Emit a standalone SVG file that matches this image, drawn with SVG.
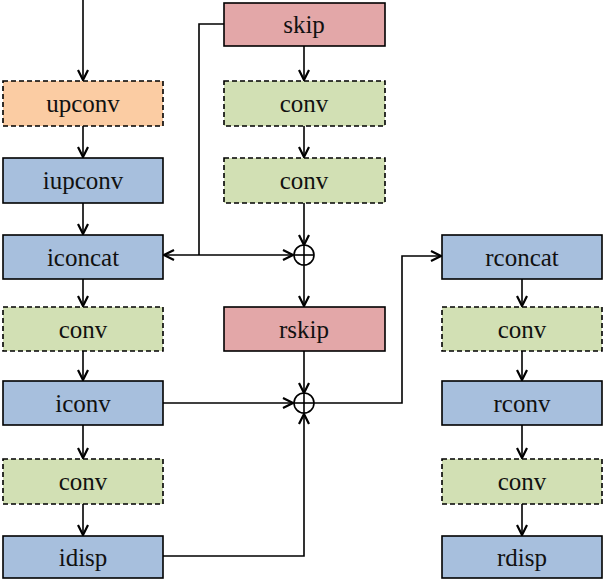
<svg xmlns="http://www.w3.org/2000/svg" width="606" height="581" viewBox="0 0 606 581">
<style>
rect{stroke:#000;stroke-width:1.6}
.d{stroke-dasharray:5,3}
.b{fill:#a7bfdd}.g{fill:#d2e0b4}.o{fill:#fbcca3}.r{fill:#e3a7a8}
text{font-family:"Liberation Serif",serif;font-size:25px;text-anchor:middle;fill:#111}
#c path,#c line,#c circle{fill:none;stroke:#000;stroke-width:1.6}
</style>
<defs><marker id="a" viewBox="0 0 12 12" refX="11" refY="6" markerWidth="12" markerHeight="12" markerUnits="userSpaceOnUse" orient="auto-start-reverse"><path d="M1,1 L11,6 L1,11" fill="none" stroke="#000" stroke-width="2.2"/></marker></defs>
<g id="c">
<line x1="83" y1="0" x2="83" y2="80" marker-end="url(#a)"/>
<line x1="83" y1="126" x2="83" y2="157" marker-end="url(#a)"/>
<line x1="83" y1="203" x2="83" y2="234" marker-end="url(#a)"/>
<line x1="83" y1="279" x2="83" y2="306" marker-end="url(#a)"/>
<line x1="83" y1="351" x2="83" y2="380" marker-end="url(#a)"/>
<line x1="83" y1="425" x2="83" y2="458" marker-end="url(#a)"/>
<line x1="83" y1="504" x2="83" y2="535" marker-end="url(#a)"/>
<line x1="304" y1="46" x2="304" y2="80" marker-end="url(#a)"/>
<line x1="304" y1="126" x2="304" y2="157" marker-end="url(#a)"/>
<line x1="304" y1="203" x2="304" y2="245" marker-end="url(#a)"/>
<circle cx="304" cy="255" r="10"/><line x1="294" y1="255" x2="314" y2="255"/><line x1="304" y1="245" x2="304" y2="265"/>
<line x1="304" y1="265" x2="304" y2="306" marker-end="url(#a)"/>
<path d="M224,24 H199 V255"/>
<line x1="199" y1="255" x2="164" y2="255" marker-end="url(#a)"/>
<line x1="199" y1="255" x2="293" y2="255" marker-end="url(#a)"/>
<line x1="304" y1="351" x2="304" y2="393" marker-end="url(#a)"/>
<circle cx="304" cy="403" r="10"/><line x1="294" y1="403" x2="314" y2="403"/><line x1="304" y1="393" x2="304" y2="413"/>
<line x1="163" y1="403" x2="293" y2="403" marker-end="url(#a)"/>
<path d="M163,556 H304 V414" marker-end="url(#a)"/>
<path d="M314,403 H402 V256 H441" marker-end="url(#a)"/>
<line x1="522" y1="279" x2="522" y2="306" marker-end="url(#a)"/>
<line x1="522" y1="351" x2="522" y2="380" marker-end="url(#a)"/>
<line x1="522" y1="425" x2="522" y2="458" marker-end="url(#a)"/>
<line x1="522" y1="504" x2="522" y2="535" marker-end="url(#a)"/>
</g>
<g id="upconv"><rect class="o d" x="3" y="81" width="160" height="45"/><text x="83" y="112">upconv</text></g>
<g id="iupconv"><rect class="b" x="3" y="158" width="160" height="45"/><text x="83" y="189">iupconv</text></g>
<g id="iconcat"><rect class="b" x="3" y="235" width="160" height="44"/><text x="83" y="266">iconcat</text></g>
<g id="conv1"><rect class="g d" x="3" y="307" width="160" height="44"/><text x="83" y="338">conv</text></g>
<g id="iconv"><rect class="b" x="3" y="381" width="160" height="44"/><text x="83" y="412">iconv</text></g>
<g id="conv2"><rect class="g d" x="3" y="459" width="160" height="45"/><text x="83" y="490">conv</text></g>
<g id="idisp"><rect class="b" x="3" y="536" width="160" height="42"/><text x="83" y="566">idisp</text></g>
<g id="skip"><rect class="r" x="224" y="3" width="161" height="43"/><text x="304" y="33">skip</text></g>
<g id="conv3"><rect class="g d" x="224" y="81" width="161" height="45"/><text x="304" y="112">conv</text></g>
<g id="conv4"><rect class="g d" x="224" y="158" width="161" height="45"/><text x="304" y="189">conv</text></g>
<g id="rskip"><rect class="r" x="224" y="307" width="161" height="44"/><text x="304" y="338">rskip</text></g>
<g id="rconcat"><rect class="b" x="442" y="235" width="160" height="44"/><text x="522" y="266">rconcat</text></g>
<g id="conv5"><rect class="g d" x="442" y="307" width="160" height="44"/><text x="522" y="338">conv</text></g>
<g id="rconv"><rect class="b" x="442" y="381" width="160" height="44"/><text x="522" y="412">rconv</text></g>
<g id="conv6"><rect class="g d" x="442" y="459" width="160" height="45"/><text x="522" y="490">conv</text></g>
<g id="rdisp"><rect class="b" x="442" y="536" width="160" height="42"/><text x="522" y="566">rdisp</text></g>
</svg>
